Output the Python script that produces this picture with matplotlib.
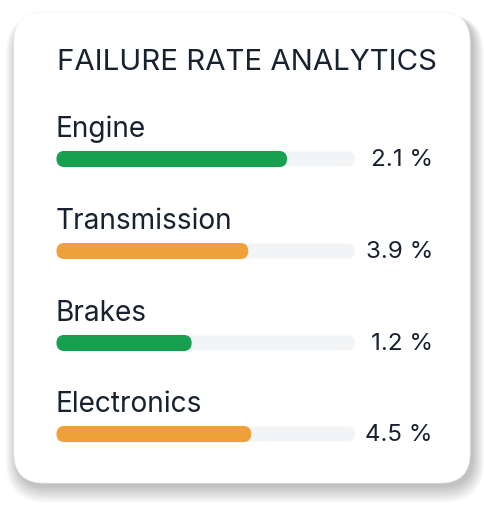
import matplotlib
matplotlib.use("Agg")
import matplotlib.pyplot as plt
from matplotlib.patches import FancyBboxPatch

title = "FAILURE RATE ANALYTICS"
categories = ["Engine", "Transmission", "Brakes", "Electronics"]
rates = [2.1, 3.9, 1.2, 4.5]
fill_fraction = [0.77, 0.64, 0.45, 0.65]
colors = ["#17a04f", "#f0a038", "#17a04f", "#f0a038"]

W, H = 485, 512
fig = plt.figure(figsize=(W / 100, H / 100), dpi=100)
ax = fig.add_axes([0, 0, 1, 1])
ax.set_xlim(0, W)
ax.set_ylim(H, 0)
ax.axis("off")
fig.patch.set_facecolor("white")

FONT = ["Inter", "DejaVu Sans"]
TEXT = "#18212f"

# card shadow (soft, layered)
cx0, cy0, cx1, cy1 = 14, 12, 470, 483
for i in range(30):
    g = i * 0.8
    ax.add_patch(FancyBboxPatch((cx0 + 3 - g * 0.5, cy0 + 4 - g * 0.1), (cx1 - cx0) + g, (cy1 - cy0) + g * 0.8,
                                boxstyle=f"round,pad=0,rounding_size={30 + g/2}", fc="black", ec="none",
                                alpha=0.009, zorder=1))
# card
ax.add_patch(FancyBboxPatch((cx0, cy0), cx1 - cx0, cy1 - cy0,
                            boxstyle="round,pad=0,rounding_size=30", fc="white", ec="#f5f5f5", lw=0.5, zorder=2))

ax.text(57, 70, title, fontsize=21.2, family=FONT, color=TEXT, ha="left", va="baseline", zorder=5)

track_x0, track_w, bar_h = 57, 298, 15
label_base = [137, 229, 321, 412]
bar_center = [159, 251, 343, 434]
for i, cat in enumerate(categories):
    ax.text(56, label_base[i], cat, fontsize=20.2, family=FONT, color=TEXT, ha="left", va="baseline", zorder=5)
    yc = bar_center[i]
    ax.add_patch(FancyBboxPatch((track_x0, yc - bar_h / 2), track_w, bar_h,
                                boxstyle=f"round,pad=0,rounding_size={bar_h/2}", fc="#f3f4f6", ec="none", zorder=3))
    ax.add_patch(FancyBboxPatch((track_x0, yc - bar_h / 2), track_w * fill_fraction[i], bar_h,
                                boxstyle=f"round,pad=0,rounding_size={bar_h/2}", fc=colors[i], ec=colors[i], lw=0.8, zorder=4))
    ax.text(433, yc + 1, f"{rates[i]} %", fontsize=17.4, family=FONT, color=TEXT, ha="right", va="center", zorder=5)

fig.savefig("out.png", dpi=100, facecolor="white")
